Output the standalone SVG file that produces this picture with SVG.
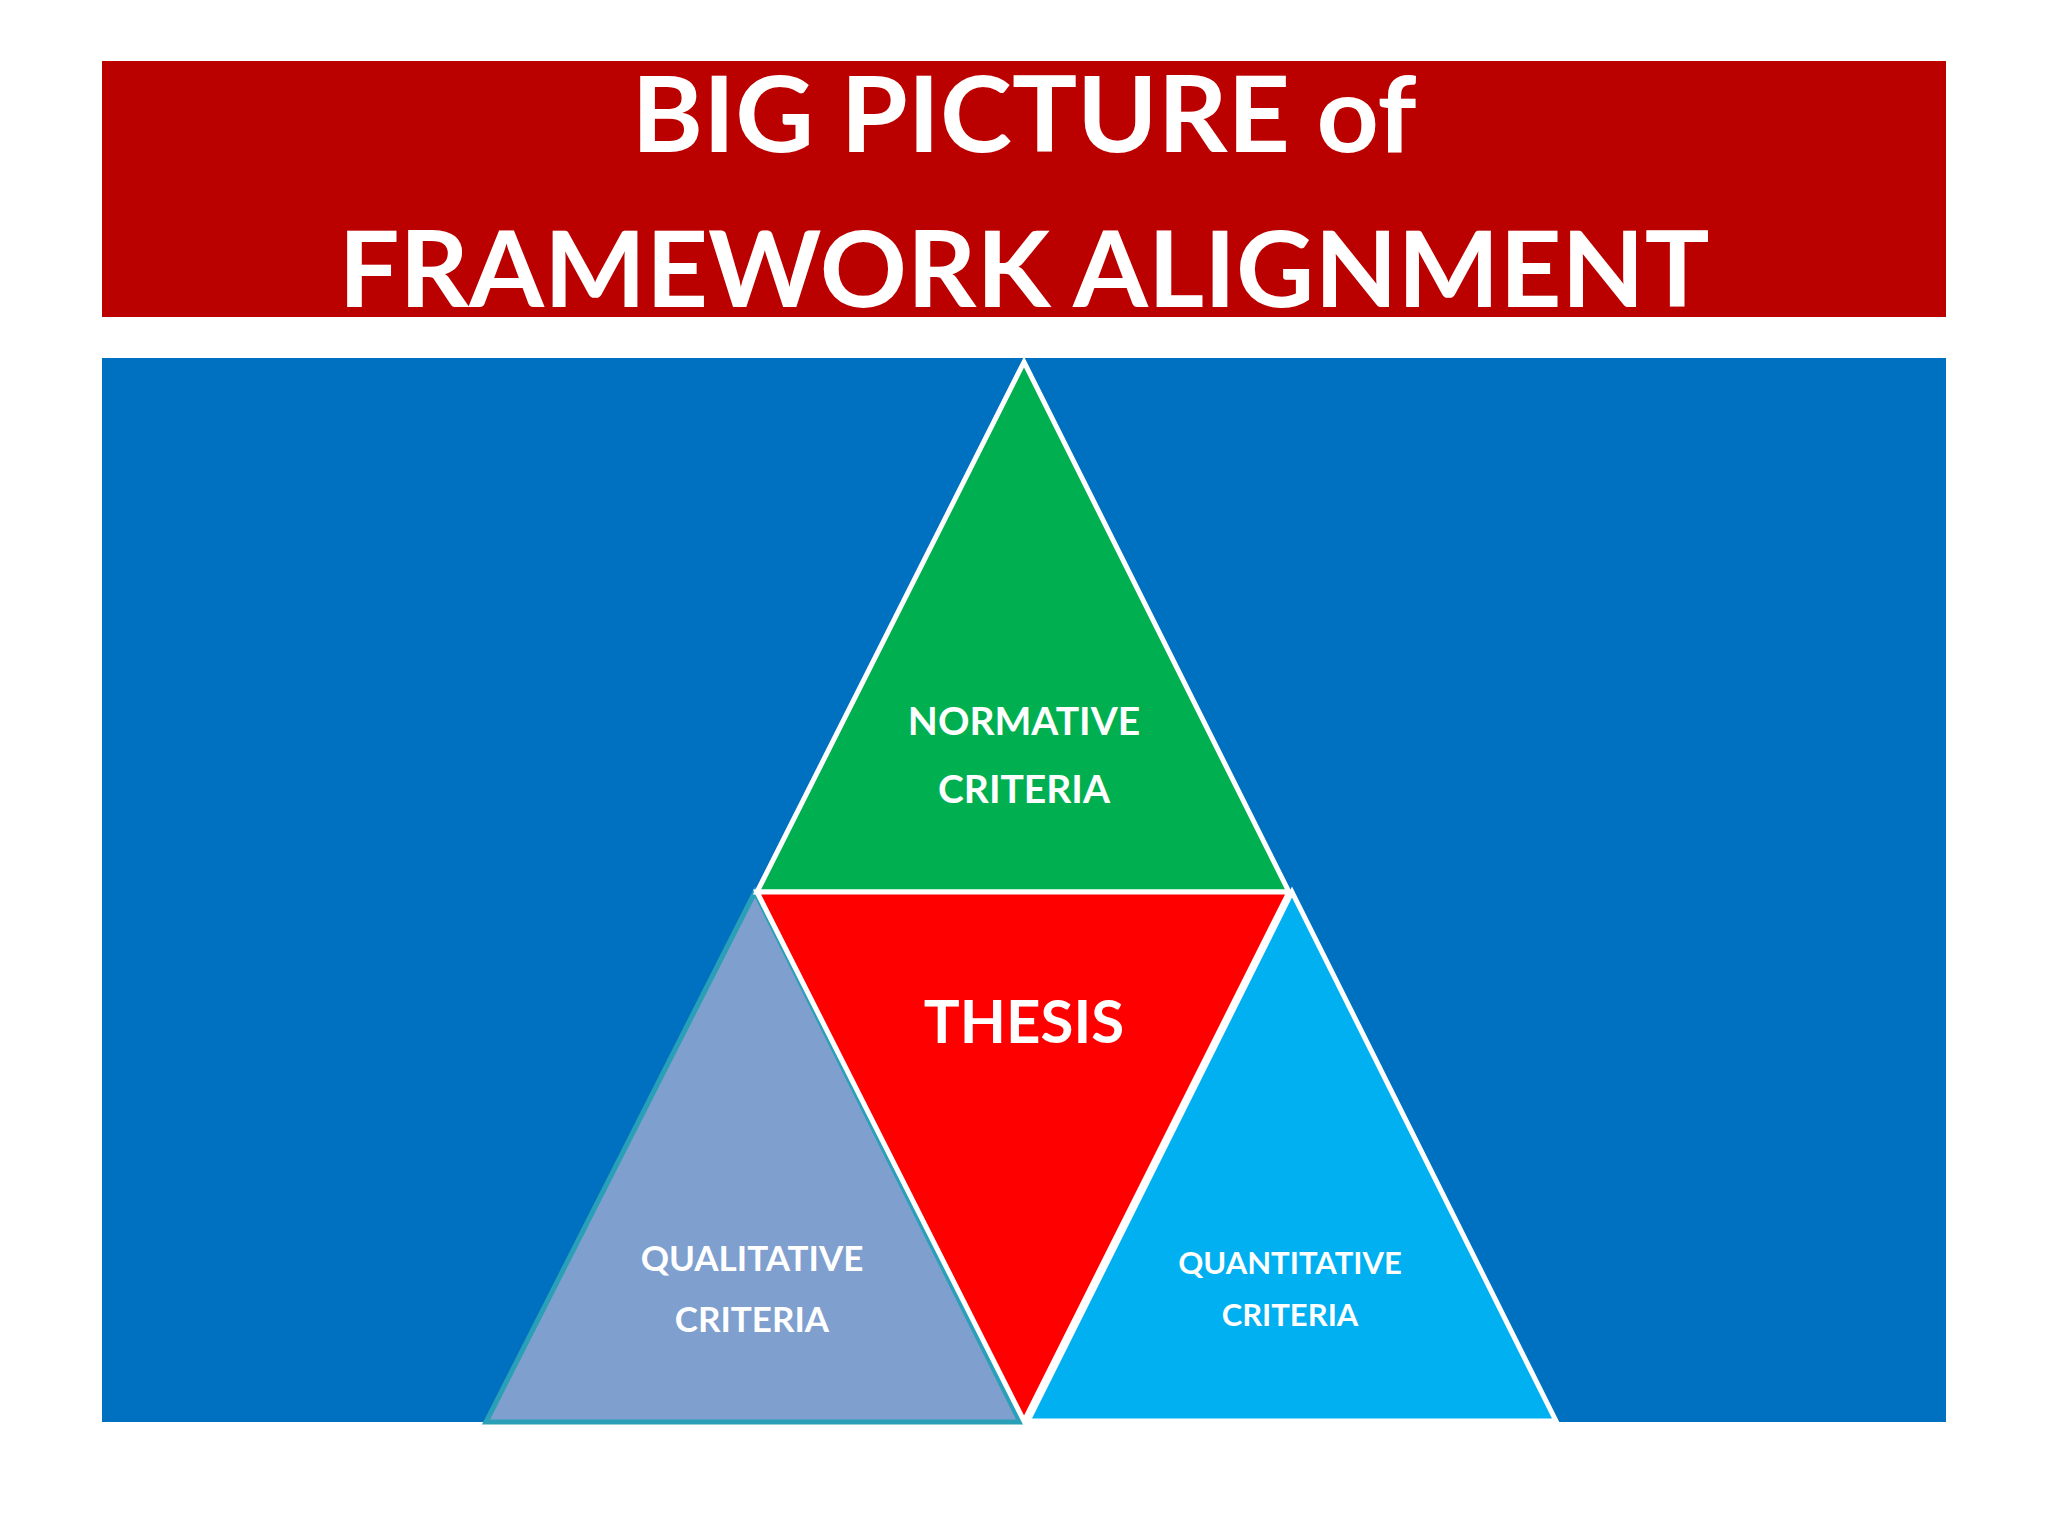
<svg xmlns="http://www.w3.org/2000/svg" width="2048" height="1536" viewBox="0 0 2048 1536">
<style>
text{font-family:Lato,"Open Sans","Liberation Sans",sans-serif;font-weight:bold;fill:#fff;text-anchor:middle}
.w{stroke:#fff;stroke-width:5;stroke-linejoin:miter}
</style>
<rect width="2048" height="1536" fill="#fff"/>
<g id="title">
<rect x="102" y="61" width="1844" height="256" fill="#bb0000"/>
<text x="1024" y="152" font-size="106" textLength="785" lengthAdjust="spacingAndGlyphs">BIG PICTURE of</text>
<text x="1024" y="307" font-size="106" textLength="1371" lengthAdjust="spacingAndGlyphs">FRAMEWORK ALIGNMENT</text>
</g>
<rect id="background" x="102" y="358" width="1844" height="1064" fill="#0070c0"/>
<g id="quantitative">
<polygon class="w" points="1292,892 1028,1421 1556,1421" fill="#00b0f0"/>
<text x="1290" y="1274" font-size="31">QUANTITATIVE</text>
<text x="1290" y="1326" font-size="31">CRITERIA</text>
</g>
<g id="qualitative">
<polygon points="755,892 486,1422 1020,1422" fill="#7f9fcf" stroke="#2aa0b8" stroke-width="5"/>
<text x="752" y="1271" font-size="35">QUALITATIVE</text>
<text x="752" y="1332" font-size="35">CRITERIA</text>
</g>
<g id="normative">
<polygon class="w" points="1024,362 757,892 1289,892" fill="#00b050"/>
<text x="1024" y="735" font-size="39">NORMATIVE</text>
<text x="1024" y="803" font-size="39">CRITERIA</text>
</g>
<g id="thesis">
<polygon class="w" points="757,892 1289,892 1024,1421" fill="#ff0000"/>
<text x="1024" y="1043" font-size="60">THESIS</text>
</g>
<g id="connectors"/>
</svg>
